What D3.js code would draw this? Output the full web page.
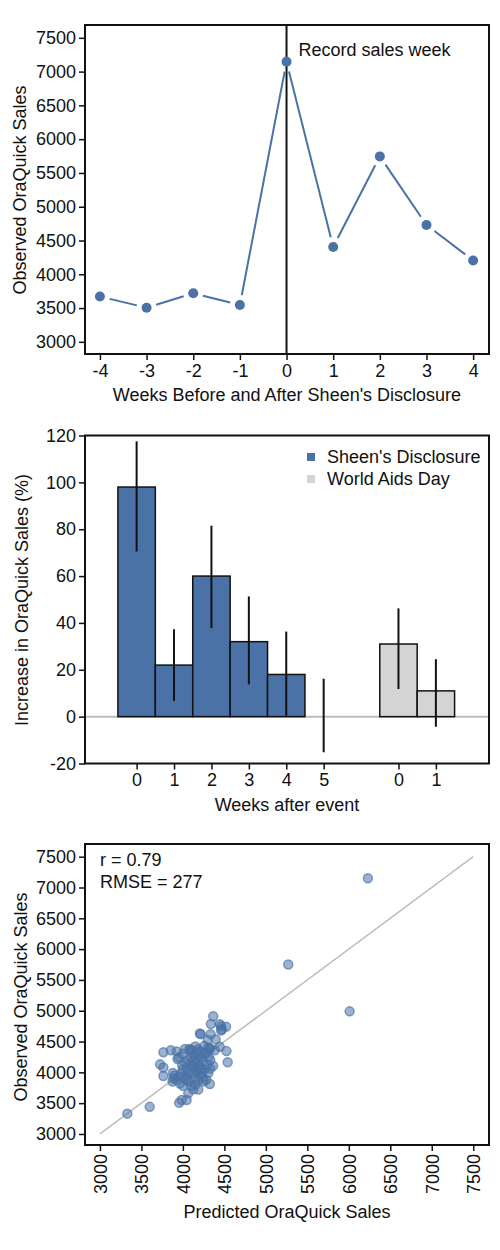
<!DOCTYPE html>
<html>
<head>
<meta charset="utf-8">
<script src="https://cdn.jsdelivr.net/npm/d3@7"></script>
<style>
  body { margin: 0; background: #fff; }
  text { font-family: "Liberation Sans", Arial, sans-serif; fill: #111; }
  .axis text { font-size: 18px; }
  .axis path { display: none; }
  .axis line { stroke: #111; stroke-width: 1.5; }
</style>
</head>
<body>
<div id="chart"></div>
<script>
// ---- data ----
// panel A: weekly sales around the disclosure
var weeks = [-4, -3, -2, -1, 0, 1, 2, 3, 4];
var weeklySales = [3670, 3505, 3720, 3545, 7145, 4405, 5745, 4730, 4205];
var salesTicks = [3000, 3500, 4000, 4500, 5000, 5500, 6000, 6500, 7000, 7500];

// panel B: increase in sales per week after event
var barPositions = [0, 1, 2, 3, 4, 5, 7, 8];
var barLabels = ["0", "1", "2", "3", "4", "5", "0", "1"];
var barGroup = ["Sheen's Disclosure", "Sheen's Disclosure", "Sheen's Disclosure", "Sheen's Disclosure",
                "Sheen's Disclosure", "Sheen's Disclosure", "World Aids Day", "World Aids Day"];
var barValues = [98, 22, 60, 32, 18, 0, 31, 11];
var errLow = [70.5, 6.7, 37.8, 13.8, 0.4, -15.2, 11.8, -4.3];
var errHigh = [117.5, 37.3, 81.5, 51.3, 36.3, 16.2, 46.2, 24.5];
var increaseTicks = [-20, 0, 20, 40, 60, 80, 100, 120];
var legendKeys = ["Sheen's Disclosure", "World Aids Day"];

// panel C: predicted vs observed
var predicted = [4365, 4337, 4445, 4460, 4520, 4470, 4460, 4205, 4215, 4335, 4395, 4300, 4325, 4320, 4305,
  4385, 4445, 4525, 4540, 4365, 4325, 4305, 3765, 3855, 3725, 3765, 3765, 3925, 3950, 3935,
  4025, 4090, 4185, 4160, 3885, 3875, 3965, 4065, 4125, 4185, 3955, 3985, 4045,
  4100, 4130, 4150, 4170, 4200, 4080, 4050, 4120, 4180, 4220, 4240, 4260, 4100, 4060, 4000,
  3980, 3950, 3920, 4020, 4070, 4150, 4200, 4230, 4260, 4280, 4250, 4110, 4140, 4030, 4000,
  4080, 4200, 4280, 4310, 4330, 4150, 4100, 4000, 3900, 3880, 4050, 4170, 4210, 4120, 4190,
  4290, 4240, 4330, 3990, 4060, 4150, 4260,
  3330, 3600, 5270, 6010, 6230];
var observed = [4910, 4785, 4780, 4750, 4740, 4700, 4680, 4630, 4620, 4620, 4535, 4525, 4390, 4370, 4400,
  4360, 4415, 4345, 4165, 4105, 3810, 3985, 4325, 4360, 4130, 4080, 3940, 4340, 4245, 4215,
  4380, 4365, 4375, 4330, 3900, 3850, 3820, 3660, 3725, 3720, 3505, 3550, 3550,
  4120, 4080, 4150, 4050, 4100, 4000, 3950, 3980, 4200, 4250, 4180, 4300, 4250, 4200, 4050,
  3980, 3930, 3880, 3900, 3850, 3900, 3950, 4000, 4050, 3880, 3850, 4350, 4280, 4150, 4300,
  4380, 4340, 4320, 4250, 4200, 3800, 3780, 3780, 3950, 3990, 4060, 4000, 4060, 4190, 3870,
  4120, 3920, 4060, 4120, 3880, 4420, 4430,
  3330, 3440, 5750, 4990, 7150];
var fitLine = [3000, 7500];

var blue = "#4a72a6";
var grey = "#d4d4d4";

// plain hyphen for negatives, like the original
var plain = function (d) { return String(d); };

var svg = d3.select("#chart").append("svg")
  .attr("width", 500).attr("height", 1250);

function frame(g, x0, y0, x1, y1) {
  g.append("rect")
    .attr("x", x0).attr("y", y0)
    .attr("width", x1 - x0).attr("height", y1 - y0)
    .attr("fill", "none").attr("stroke", "#111").attr("stroke-width", 2);
}

function yTitle(g, x, y, label) {
  g.append("text")
    .attr("transform", "translate(" + x + "," + y + ") rotate(-90)")
    .attr("text-anchor", "middle").attr("dy", "0.35em")
    .style("font-size", "18px")
    .text(label);
}

function xTitle(g, x, y, label) {
  g.append("text")
    .attr("x", x).attr("y", y)
    .attr("text-anchor", "middle")
    .style("font-size", "18px")
    .text(label);
}

//////////
// PANEL A //
//////////
var gA = svg.append("g");
var xA = d3.scaleLinear().domain([-4.32, 4.34]).range([85, 489]);
var yA = d3.scaleLinear().domain([2820, 7690]).range([354, 25]);

gA.append("g").attr("class", "axis")
  .attr("transform", "translate(0,354)")
  .call(d3.axisBottom(xA).tickValues(weeks).tickSize(6).tickPadding(4).tickFormat(plain));
gA.append("g").attr("class", "axis")
  .attr("transform", "translate(85,0)")
  .call(d3.axisLeft(yA).tickValues(salesTicks).tickSize(6).tickPadding(3).tickFormat(plain));

// vertical line at week 0
gA.append("line")
  .attr("x1", xA(0)).attr("x2", xA(0))
  .attr("y1", 25).attr("y2", 354)
  .attr("stroke", "#111").attr("stroke-width", 2);

// broken line segments between points
var gap = 10;
for (var i = 0; i < weeks.length - 1; i++) {
  var ax = xA(weeks[i]), ay = yA(weeklySales[i]);
  var bx = xA(weeks[i + 1]), by = yA(weeklySales[i + 1]);
  var len = Math.sqrt((bx - ax) * (bx - ax) + (by - ay) * (by - ay));
  var ux = (bx - ax) / len, uy = (by - ay) / len;
  gA.append("line")
    .attr("x1", ax + ux * gap).attr("y1", ay + uy * gap)
    .attr("x2", bx - ux * gap).attr("y2", by - uy * gap)
    .attr("stroke", blue).attr("stroke-width", 2);
}

gA.selectAll("circle.pt")
  .data(weeks)
  .enter().append("circle")
  .attr("cx", function (d) { return xA(d); })
  .attr("cy", function (d, i) { return yA(weeklySales[i]); })
  .attr("r", 5)
  .attr("fill", blue);

gA.append("text")
  .attr("x", xA(0) + 12).attr("y", 56)
  .style("font-size", "18px")
  .text("Record sales week");

frame(gA, 85, 25, 489, 354);
yTitle(gA, 20, 190, "Observed OraQuick Sales");
xTitle(gA, 287, 401, "Weeks Before and After Sheen's Disclosure");

//////////
// PANEL B //
//////////
var gB = svg.append("g");
var xB = d3.scaleLinear().domain([-1.38, 9.42]).range([85, 489]);
var yB = d3.scaleLinear().domain([-20, 120]).range([763.5, 435.5]);
var color = d3.scaleOrdinal().domain(legendKeys).range([blue, grey]);
var bw = xB(1) - xB(0);

gB.append("g").attr("class", "axis")
  .attr("transform", "translate(0,763.5)")
  .call(d3.axisBottom(xB).tickValues(barPositions).tickSize(6).tickPadding(4)
    .tickFormat(function (d, i) { return barLabels[i]; }));
gB.append("g").attr("class", "axis")
  .attr("transform", "translate(85,0)")
  .call(d3.axisLeft(yB).tickValues(increaseTicks).tickSize(6).tickPadding(3).tickFormat(plain));

// zero line
gB.append("line")
  .attr("x1", 85).attr("x2", 489)
  .attr("y1", yB(0)).attr("y2", yB(0))
  .attr("stroke", "#bdbdbd").attr("stroke-width", 2);

gB.selectAll("rect.bar")
  .data(barValues)
  .enter().append("rect")
  .attr("x", function (d, i) { return xB(barPositions[i]) - bw / 2; })
  .attr("y", function (d) { return yB(Math.max(d, 0)); })
  .attr("width", bw)
  .attr("height", function (d) { return Math.abs(yB(d) - yB(0)); })
  .attr("fill", function (d, i) { return color(barGroup[i]); })
  .attr("stroke", function (d) { return d === 0 ? "#bdbdbd" : "#111"; })
  .attr("stroke-width", function (d) { return d === 0 ? 3 : 1.5; });

gB.selectAll("line.err")
  .data(barValues)
  .enter().append("line")
  .attr("x1", function (d, i) { return xB(barPositions[i]); })
  .attr("x2", function (d, i) { return xB(barPositions[i]); })
  .attr("y1", function (d, i) { return yB(errLow[i]); })
  .attr("y2", function (d, i) { return yB(errHigh[i]); })
  .attr("stroke", "#111").attr("stroke-width", 2);

// legend
var size = 8;
gB.selectAll("rect.leg")
  .data(legendKeys)
  .enter().append("rect")
  .attr("x", 307)
  .attr("y", function (d, i) { return 453 + i * 22; })
  .attr("width", size).attr("height", size)
  .attr("fill", function (d) { return color(d); });
gB.selectAll("text.leg")
  .data(legendKeys)
  .enter().append("text")
  .attr("x", 327)
  .attr("y", function (d, i) { return 457 + i * 22; })
  .attr("dy", "0.35em")
  .style("font-size", "18px")
  .text(function (d) { return d; });

frame(gB, 85, 435.5, 489, 763.5);
yTitle(gB, 22, 600, "Increase in OraQuick Sales (%)");
xTitle(gB, 287, 811, "Weeks after event");

//////////
// PANEL C //
//////////
var gC = svg.append("g");
var xC = d3.scaleLinear().domain([2820, 7690]).range([85, 489]);
var yC = d3.scaleLinear().domain([2821, 7706]).range([1145, 844]);

var xAxC = gC.append("g").attr("class", "axis")
  .attr("transform", "translate(0,1145)")
  .call(d3.axisBottom(xC).tickValues(salesTicks).tickSize(6).tickFormat(plain));
xAxC.selectAll("text")
  .attr("transform", "rotate(-90)")
  .attr("x", -9).attr("y", 0).attr("dy", "0.35em")
  .attr("text-anchor", "end");
gC.append("g").attr("class", "axis")
  .attr("transform", "translate(85,0)")
  .call(d3.axisLeft(yC).tickValues(salesTicks).tickSize(6).tickPadding(3).tickFormat(plain));

gC.append("line")
  .attr("x1", xC(fitLine[0])).attr("y1", yC(fitLine[0]))
  .attr("x2", xC(fitLine[1])).attr("y2", yC(fitLine[1]))
  .attr("stroke", "#bdbdbd").attr("stroke-width", 1.5);

gC.selectAll("circle.sc")
  .data(predicted)
  .enter().append("circle")
  .attr("cx", function (d) { return xC(d); })
  .attr("cy", function (d, i) { return yC(observed[i]); })
  .attr("r", 4.5)
  .attr("fill", blue).attr("fill-opacity", 0.55)
  .attr("stroke", blue).attr("stroke-opacity", 0.65).attr("stroke-width", 1.5);

gC.append("text").attr("x", 100).attr("y", 866).style("font-size", "18px").text("r = 0.79");
gC.append("text").attr("x", 100).attr("y", 888).style("font-size", "18px").text("RMSE = 277");

frame(gC, 85, 844, 489, 1145);
yTitle(gC, 21, 997, "Observed OraQuick Sales");
xTitle(gC, 287, 1218, "Predicted OraQuick Sales");
</script>
</body>
</html>
